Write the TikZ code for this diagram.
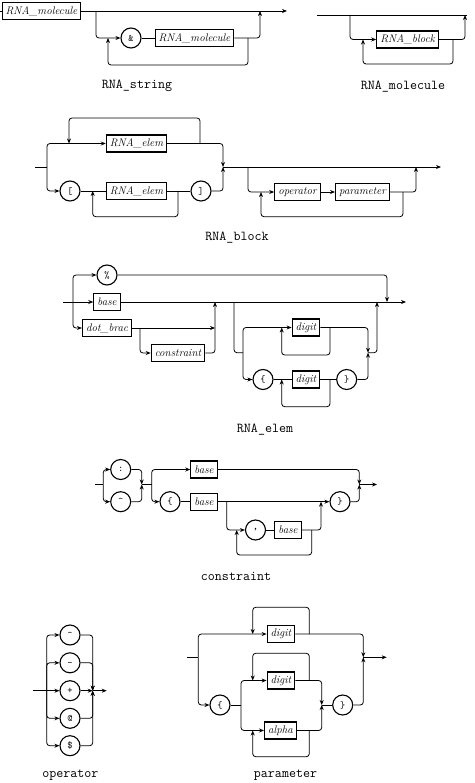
\documentclass[tikz,border=0pt]{standalone}
\usetikzlibrary{shapes, arrows.meta}
\tikzstyle{nonterm} = [rectangle, draw=black, line width=1.2pt, minimum height=17pt, inner xsep=3.5pt, inner ysep=2pt, font=\fontsize{11}{13}\selectfont\itshape]
\tikzstyle{term} = [circle, draw=black, line width=1.1pt, minimum size=20pt, inner sep=0pt, font=\ttfamily\fontsize{10}{12}\selectfont]
\tikzstyle{track} = [line width=0.8pt, rounded corners=3pt]
\tikzstyle{arrow} = [track, -{Stealth[length=5pt,width=4pt]}]
\tikzstyle{diagname} = [font=\ttfamily\fontsize{13.6}{16}\selectfont]
\begin{document}
\begin{tikzpicture}[x=1pt, y=-1pt]
    \useasboundingbox (0,0) rectangle (474,783);

    % RNA_string
    \coordinate (strIn) at (0,11);
    \node (strMol) [nonterm] at (41.5,11) {RNA\_molecule};
    \coordinate (strSplit) at (96,11);
    \node (strAmp) [term] at (131,38) {\&};
    \node (strMol2) [nonterm] at (194.5,38) {RNA\_molecule};
    \coordinate (strLoopA) at (248,38);
    \coordinate (strLoopB) at (108,38);
    \coordinate (strJoin) at (260,11);
    \coordinate (strOut) at (287,11);
    \node (strName) [diagname] at (137,86) {RNA\_string};

    \draw [track] (strIn) -- (strMol);
    \draw [arrow] (strMol) -- (strOut);
    \draw [arrow] (strSplit) |- (strAmp);
    \draw [track] (strAmp) -- (strMol2);
    \draw [arrow] (strMol2) -| (strJoin);
    \draw [arrow] (strLoopA) -- ++(0,27) -| (strLoopB);

    % RNA_molecule
    \coordinate (molIn) at (317,15);
    \coordinate (molSplit) at (350,15);
    \node (molBlock) [nonterm] at (407.5,39.5) {RNA\_block};
    \coordinate (molLoopA) at (453,39.5);
    \coordinate (molLoopB) at (363,39.5);
    \coordinate (molJoin) at (465,15);
    \coordinate (molOut) at (467,15);
    \node (molName) [diagname] at (403,87) {RNA\_molecule};

    \draw [track] (molIn) -- (molOut);
    \draw [arrow] (molSplit) |- (molBlock);
    \draw [arrow] (molBlock) -| (molJoin);
    \draw [arrow] (molLoopA) -- ++(0,24.5) -| (molLoopB);

    % RNA_block
    \coordinate (blkIn) at (35,167);
    \coordinate (blkSplit) at (47,167);
    \node (blkElem) [nonterm] at (136.5,143.5) {RNA\_elem};
    \node (blkOpen) [term] at (70,191) {[};
    \node (blkElem2) [nonterm] at (136.5,191) {RNA\_elem};
    \node (blkClose) [term] at (201,191) {]};
    \coordinate (blkLoopA) at (200,143.5);
    \coordinate (blkLoopB) at (69,143.5);
    \coordinate (blkLoopC) at (178,191);
    \coordinate (blkLoopD) at (92.7,191);
    \coordinate (blkJoin) at (223,167);
    \coordinate (blkSplit2) at (248,167);
    \node (blkOp) [nonterm] at (297.5,192) {operator};
    \node (blkPar) [nonterm] at (362.5,192) {parameter};
    \coordinate (blkLoopE) at (403,192);
    \coordinate (blkLoopF) at (261,192);
    \coordinate (blkJoin2) at (416,167);
    \coordinate (blkOut) at (441,167);
    \node (blkName) [diagname] at (237,238) {RNA\_block};

    \draw [track] (blkIn) -- (blkSplit);
    \draw [arrow] (blkSplit) |- (blkElem);
    \draw [arrow] (blkSplit) |- (blkOpen);
    \draw [track] (blkOpen) -- (blkElem2);
    \draw [track] (blkElem2) -- (blkClose);
    \draw [arrow] (blkLoopA) -- ++(0,-25.5) -| (blkLoopB);
    \draw [arrow] (blkLoopC) -- ++(0,25.7) -| (blkLoopD);
    \draw [arrow] (blkElem) -| (blkJoin);
    \draw [arrow] (blkClose) -| (blkJoin);
    \draw [arrow] (blkJoin) -- (blkOut);
    \draw [arrow] (blkSplit2) |- (blkOp);
    \draw [arrow] (blkOp) -- (blkPar);
    \draw [arrow] (blkPar) -| (blkJoin2);
    \draw [arrow] (blkLoopE) -- ++(0,24.7) -| (blkLoopF);

    % RNA_elem
    \coordinate (elmIn) at (63,302);
    \coordinate (elmSplit) at (73,302);
    \node (elmPct) [term] at (107,275) {\%};
    \node (elmBase) [nonterm] at (107,302) {base};
    \node (elmDot) [nonterm] at (107,328) {dot\_brac};
    \coordinate (elmSplitC) at (140,328);
    \node (elmCons) [nonterm] at (178,353) {constraint};
    \coordinate (elmDotEnd) at (215,328);
    \coordinate (elmJoinC) at (215,302);
    \coordinate (elmDrop) at (234,302);
    \coordinate (elmSplitD) at (243,352.7);
    \node (elmDigit) [nonterm] at (306,327.5) {digit};
    \node (elmOpen) [term] at (263,379.5) {\{};
    \node (elmDigit2) [nonterm] at (306,379.5) {digit};
    \node (elmClose) [term] at (346.7,379.5) {\}};
    \coordinate (elmLoopA) at (330,327.5);
    \coordinate (elmLoopB) at (281.7,327.5);
    \coordinate (elmLoopC) at (330,379.5);
    \coordinate (elmLoopD) at (281.7,379.5);
    \coordinate (elmJoinD) at (368,352.7);
    \coordinate (elmJoinM) at (377,302);
    \coordinate (elmJoinP) at (387,302);
    \coordinate (elmOut) at (406,302);
    \node (elmName) [diagname] at (265,430) {RNA\_elem};

    \draw [arrow] (elmIn) -- (elmBase);
    \draw [arrow] (elmSplit) |- (elmPct);
    \draw [arrow] (elmSplit) |- (elmDot);
    \draw [arrow] (elmPct) -| (elmJoinP);
    \draw [arrow] (elmBase) -- (elmOut);
    \draw [arrow] (elmDot) -- (elmDotEnd);
    \draw [arrow] (elmSplitC) |- (elmCons);
    \draw [arrow] (elmCons) -| (elmJoinC);
    \draw [track] (elmDrop) |- (elmSplitD);
    \draw [arrow] (elmSplitD) |- (elmDigit);
    \draw [arrow] (elmSplitD) |- (elmOpen);
    \draw [arrow] (elmLoopA) -- ++(0,27.5) -| (elmLoopB);
    \draw [track] (elmOpen) -- (elmDigit2);
    \draw [track] (elmDigit2) -- (elmClose);
    \draw [arrow] (elmLoopC) -- ++(0,27.2) -| (elmLoopD);
    \draw [arrow] (elmDigit) -| (elmJoinD);
    \draw [arrow] (elmClose) -| (elmJoinD);
    \draw [arrow] (elmJoinD) -| (elmJoinM);

    % constraint
    \coordinate (conIn) at (95,484.5);
    \coordinate (conSplit) at (103.3,484.5);
    \node (conColon) [term] at (120.7,469.5) {:};
    \node (conCaret) [term] at (120.7,501.7) {\textasciicircum};
    \coordinate (conJoin) at (141.7,484.5);
    \coordinate (conSplit2) at (151.7,484.5);
    \node (conBase) [nonterm] at (204,469.5) {base};
    \node (conOpen) [term] at (170,501.7) {\{};
    \node (conBase2) [nonterm] at (204,501.7) {base};
    \coordinate (conSplit3) at (226.7,501.7);
    \node (conComma) [term] at (255.5,530) {,};
    \node (conBase3) [nonterm] at (288,530) {base};
    \coordinate (conLoopA) at (311.7,530);
    \coordinate (conLoopB) at (236.7,530);
    \coordinate (conJoin3) at (321,501.7);
    \node (conClose) [term] at (340,501.7) {\}};
    \coordinate (conJoin2) at (359.3,484.5);
    \coordinate (conOut) at (377,484.5);
    \node (conName) [diagname] at (236,576) {constraint};

    \draw [track] (conIn) -- (conSplit);
    \draw [arrow] (conSplit) |- (conColon);
    \draw [arrow] (conSplit) |- (conCaret);
    \draw [arrow] (conColon) -| (conJoin);
    \draw [arrow] (conCaret) -| (conJoin);
    \draw [track] (conJoin) -- (conSplit2);
    \draw [arrow] (conSplit2) |- (conBase);
    \draw [arrow] (conSplit2) |- (conOpen);
    \draw [track] (conOpen) -- (conBase2);
    \draw [arrow] (conBase2) -- (conClose);
    \draw [arrow] (conSplit3) |- (conComma);
    \draw [track] (conComma) -- (conBase3);
    \draw [arrow] (conBase3) -| (conJoin3);
    \draw [arrow] (conLoopA) -- ++(0,25) -| (conLoopB);
    \draw [arrow] (conBase) -| (conJoin2);
    \draw [arrow] (conClose) -| (conJoin2);
    \draw [arrow] (conJoin2) -- (conOut);

    % operator
    \coordinate (opIn) at (33.3,690.7);
    \coordinate (opSplit) at (46.7,690.7);
    \node (opCaret) [term] at (70,635) {\textasciicircum};
    \node (opUnder) [term] at (70,662.8) {\_};
    \node (opPlus) [term] at (70,690.7) {+};
    \node (opAt) [term] at (70,718.3) {@};
    \node (opDollar) [term] at (70,745.7) {\$};
    \coordinate (opJoin) at (92.7,690.7);
    \coordinate (opOut) at (106.7,690.7);
    \node (opName) [diagname] at (70.3,775) {operator};

    \draw [arrow] (opIn) -- (opPlus);
    \foreach \branch in {opCaret, opUnder, opAt, opDollar} {
        \draw [arrow] (opSplit) |- (\branch);
        \draw [arrow] (\branch) -| (opJoin);
    }
    \draw [arrow] (opPlus) -- (opJoin);
    \draw [arrow] (opJoin) -- (opOut);

    % parameter
    \coordinate (parIn) at (186.7,657.3);
    \coordinate (parSplit) at (198.3,657.3);
    \node (parDigit) [nonterm] at (281,634) {digit};
    \node (parOpen) [term] at (220,705) {\{};
    \coordinate (parSplit2) at (241,705);
    \node (parDigit2) [nonterm] at (281,680.5) {digit};
    \node (parAlpha) [nonterm] at (280.5,730.5) {alpha};
    \coordinate (parLoopA) at (309.3,634);
    \coordinate (parLoopB) at (252.7,634);
    \coordinate (parLoopC) at (309.3,680.5);
    \coordinate (parLoopD) at (252.7,680.5);
    \coordinate (parLoopE) at (309.3,730.5);
    \coordinate (parLoopF) at (252.7,730.5);
    \coordinate (parJoin2) at (321.7,705);
    \node (parClose) [term] at (342.7,705) {\}};
    \coordinate (parJoin) at (363.3,657.3);
    \coordinate (parOut) at (386.7,657.3);
    \node (parName) [diagname] at (285.5,775) {parameter};

    \draw [track] (parIn) -- (parSplit);
    \draw [arrow] (parSplit) |- (parDigit);
    \draw [arrow] (parSplit) |- (parOpen);
    \draw [arrow] (parLoopA) -- ++(0,-26.7) -| (parLoopB);
    \draw [arrow] (parDigit) -| (parJoin);
    \draw [track] (parOpen) -- (parSplit2);
    \draw [arrow] (parSplit2) |- (parDigit2);
    \draw [arrow] (parSplit2) |- (parAlpha);
    \draw [arrow] (parLoopC) -- ++(0,-27.2) -| (parLoopD);
    \draw [arrow] (parLoopE) -- ++(0,26.2) -| (parLoopF);
    \draw [arrow] (parDigit2) -| (parJoin2);
    \draw [arrow] (parAlpha) -| (parJoin2);
    \draw [track] (parJoin2) -- (parClose);
    \draw [arrow] (parClose) -| (parJoin);
    \draw [arrow] (parJoin) -- (parOut);

\end{tikzpicture}
\end{document}
